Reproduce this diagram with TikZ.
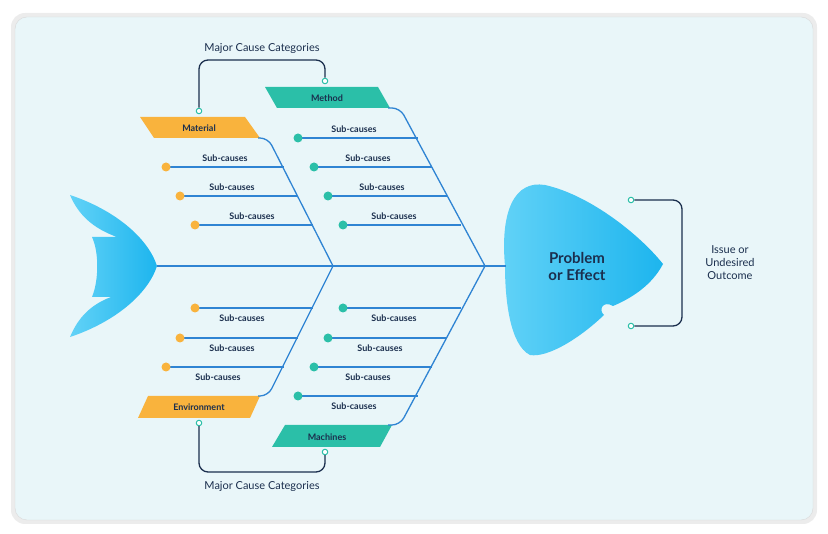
\documentclass[tikz,border=0pt]{standalone}
\usepackage{fontspec}
\setmainfont{Lato}
\definecolor{navy}{HTML}{1B2F4E}
\definecolor{bone}{HTML}{2F84D3}
\definecolor{teal}{HTML}{2BBFA8}
\definecolor{orng}{HTML}{F9B33D}
\definecolor{fishb}{HTML}{1DB5EE}
\definecolor{fishl}{HTML}{62D2F7}
\definecolor{bg}{HTML}{E9F6F9}
\begin{document}
\begin{tikzpicture}[x=1pt,y=-1pt,
 bonel/.style={draw=bone,line width=1.3pt,rounded corners=8pt},
 sub/.style={draw=bone,line width=1.1pt},
 lab/.style={font=\bfseries\fontsize{9}{10}\selectfont,text=navy},
 cat/.style={font=\bfseries\fontsize{9}{10}\selectfont,text=navy},
 od/.style={fill=orng,draw=none},
 td/.style={fill=teal,draw=none},
 pin/.style={circle,draw=teal,fill=white,line width=1pt,inner sep=0pt,minimum size=5.5pt},
 conn/.style={draw=navy,line width=1.3pt,rounded corners=9pt},
 txt/.style={font=\fontsize{11}{13}\selectfont,text=navy},
 big/.style={font=\bfseries\fontsize{15}{17}\selectfont,text=navy}]
\useasboundingbox (0,0) rectangle (828,534);
\fill[gray!15,rounded corners=14pt] (11,13) rectangle (817,524);
\fill[bg,rounded corners=12pt,draw=gray!30] (15,17) rectangle (813,520);
% tail
\shade[left color=fishl,right color=fishb]
 (70,195) .. controls (115,210) and (148,238) .. (157,266)
 .. controls (148,294) and (115,322) .. (70,337)
 .. controls (78,318) and (90,305) .. (111,297) -- (92,297)
 .. controls (99,280) and (99,252) .. (92,237) -- (117,237)
 .. controls (92,228) and (78,214) .. (70,195) -- cycle;
% head
\shade[left color=fishl,right color=fishb]
 (505,266) .. controls (500,210) and (515,180) .. (545,185)
 .. controls (590,195) and (640,235) .. (663,264)
 .. controls (652,285) and (632,298) .. (613,306)
 .. controls (603,300) and (598,310) .. (604,315)
 .. controls (580,338) and (548,358) .. (530,355)
 .. controls (510,345) and (505,300) .. (505,266) -- cycle;
\node[big,align=center] (prob) at (577,266) {Problem\\or Effect};
% spine
\coordinate (tail) at (157,266);
\coordinate (head) at (506,266);
\coordinate (j1) at (333,266);
\coordinate (j2) at (485,266);
\draw[sub] (tail) -- (head);
% boxes
\fill[orng] (140,117) -- (245,117) -- (260,138) -- (154,138) -- cycle;
\node[cat] (mat) at (199,128) {Material};
\fill[teal] (265,87) -- (378,87) -- (390,108) -- (277,108) -- cycle;
\node[cat] (met) at (327,98) {Method};
\fill[orng] (148,396) -- (260,396) -- (250,418) -- (138,418) -- cycle;
\node[cat] (env) at (199,407) {Environment};
\fill[teal] (285,425) -- (392,425) -- (380,447) -- (272,447) -- cycle;
\node[cat] (mac) at (327,437) {Machines};
% bones
\draw[bonel] (258,138) -- (268,138) -- (j1);
\draw[bonel] (388,108) -- (400,108) -- (j2);
\draw[bonel] (258,396) -- (268,396) -- (j1);
\draw[bonel] (388,425) -- (400,425) -- (j2);
% subs
\foreach \d/\y/\e/\lx in {166/167/284/225,180/196/298/232,195/225/313/252}{
 \draw[sub] (\d,\y) -- (\e,\y);
 \fill[od] (\d,\y) circle (4.5pt);
 \node[lab] at (\lx,\y-9) {Sub-causes};}
\foreach \d/\y/\e/\lx in {298/138/418/354,314/167/432/368,328/196/447/382,343/225/461/394}{
 \draw[sub] (\d,\y) -- (\e,\y);
 \fill[td] (\d,\y) circle (4.5pt);
 \node[lab] at (\lx,\y-9) {Sub-causes};}
\foreach \d/\y/\e/\lx in {195/308/313/242,180/338/298/232,166/367/284/218}{
 \draw[sub] (\d,\y) -- (\e,\y);
 \fill[od] (\d,\y) circle (4.5pt);
 \node[lab] at (\lx,\y+10) {Sub-causes};}
\foreach \d/\y/\e/\lx in {343/308/461/394,328/338/447/380,314/367/432/368,298/396/418/354}{
 \draw[sub] (\d,\y) -- (\e,\y);
 \fill[td] (\d,\y) circle (4.5pt);
 \node[lab] at (\lx,\y+10) {Sub-causes};}
% connectors
\node[pin] (p1) at (199,111) {};
\node[pin] (p2) at (325,81) {};
\node[pin] (p3) at (199,423) {};
\node[pin] (p4) at (325,452) {};
\node[pin] (p5) at (631,200) {};
\node[pin] (p6) at (631,326) {};
\draw[conn] (p1) -- (199,60) -- (325,60) -- (p2);
\draw[conn] (p3) -- (199,472) -- (325,472) -- (p4);
\draw[conn] (p5) -- (682,200) -- (682,326) -- (p6);
\node[txt] (t1) at (262,48) {Major Cause Categories};
\node[txt] (t2) at (262,486) {Major Cause Categories};
\node[txt,align=center] (iss) at (730,263) {Issue or\\Undesired\\Outcome};
\end{tikzpicture}
\end{document}
